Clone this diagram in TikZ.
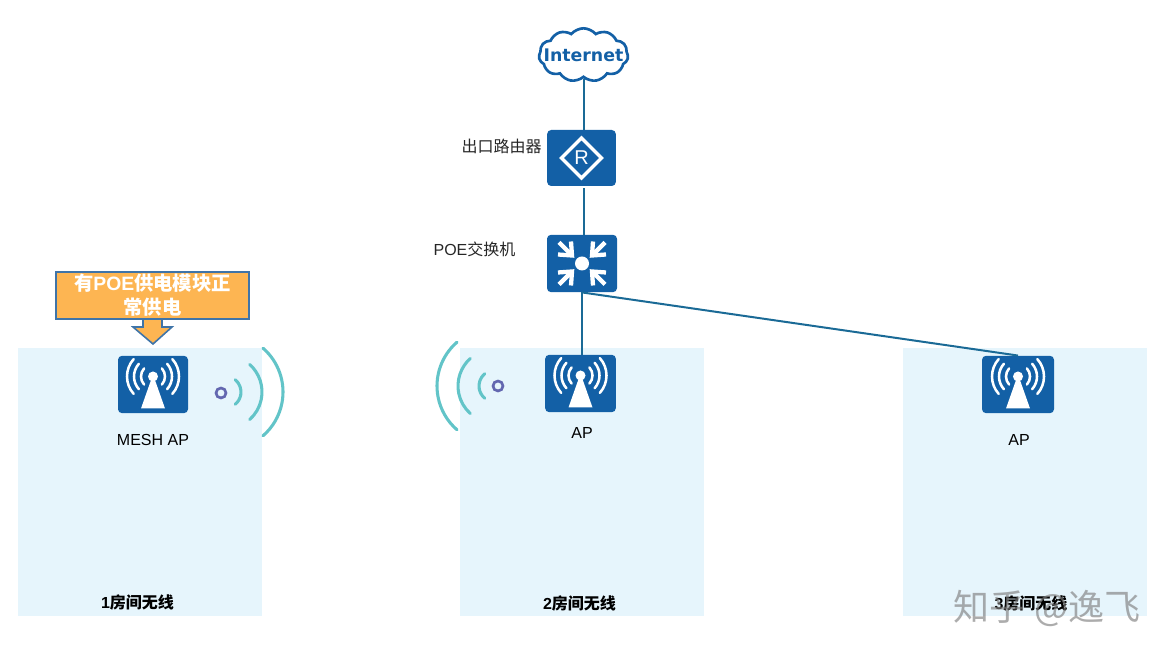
\documentclass[tikz,border=0pt]{standalone}
\usepackage{fontspec}
\setmainfont{Liberation Sans}
\newfontfamily\cjk{Noto Sans CJK SC}
\newfontfamily\cloudfont{DejaVu Sans}
\usetikzlibrary{shapes.symbols}

\definecolor{iconblue}{HTML}{1360A6}
\definecolor{linkblue}{HTML}{1A6A96}
\definecolor{roomblue}{HTML}{E6F5FC}
\definecolor{noticeorange}{HTML}{FDB552}
\definecolor{noticeedge}{HTML}{3F74A8}
\definecolor{wavegreen}{HTML}{62C4C8}
\definecolor{dotpurple}{HTML}{6367B0}

\tikzset{
    room/.style = {fill=roomblue, inner sep=0, minimum width=183pt, minimum height=201pt},
    device/.style = {fill=iconblue, rounded corners=3pt, inner sep=0},
    link/.style = {draw=linkblue, line width=1.5pt},
    label/.style = {inner sep=0, font=\fontsize{12}{14}\selectfont},
    roomlabel/.style = {inner sep=0, font=\fontsize{12}{14}\selectfont\bfseries},
    wave/.style = {draw=wavegreen, line width=2.3pt, line cap=round},
    apicon/.pic = {
        \fill [white] (0,10) -- (-12,-24) -- (12,-24) -- cycle;
        \fill [white] (0,8) circle [radius=5];
        \foreach \r in {12, 19, 26} {
            \draw [white, line width=1.9pt, line cap=round] (0,8) ++(42:\r) arc [start angle=42, end angle=-42, radius=\r];
            \draw [white, line width=1.9pt, line cap=round] (0,8) ++(138:\r) arc [start angle=138, end angle=222, radius=\r];
        }
    },
    inarrow/.pic = {
        \draw [white, line width=3.2pt] (-24,9) -- (-10,8) -- (-11,22);
        \draw [white, line width=3.2pt] (-23,21) -- (-11,9);
    }
}

\begin{document}
\begin{tikzpicture}[x=0.75pt, y=0.75pt]
    \useasboundingbox (0,0) rectangle (1170,655);

    \node [room] (room1) at (140,173) {};
    \node [room] (room2) at (582,172.5) {};
    \node [room] (room3) at (1025,172.5) {};

    \node [cloud, cloud puffs=11, cloud puff arc=100, aspect=1.7, draw=iconblue, fill=white, line width=2pt, inner sep=0, minimum width=67pt, minimum height=40pt] (internet) at (583.5,600) {};
    \node [inner sep=0, text=iconblue, font=\cloudfont\fontsize{13}{15}\selectfont\bfseries] (internettext) at (internet) {Internet};

    \node [device, minimum width=51.5pt, minimum height=42pt] (router) at (581.5,497) {};
    \node [device, minimum width=52.5pt, minimum height=43pt] (switch) at (582,391.5) {};
    \node [device, minimum width=52.5pt, minimum height=43pt] (ap1) at (153,270.5) {};
    \node [device, minimum width=53pt, minimum height=43pt] (ap2) at (580.5,271.5) {};
    \node [device, minimum width=54pt, minimum height=43pt] (ap3) at (1018,270.5) {};

    \draw [link] (internet.south) -- (internet.south |- router.north);
    \draw [link] (internet.south |- router.south) ++(0,-2) -- (internet.south |- switch.north);
    \draw [link] (switch.south) -- (switch.south |- ap2.north);
    \draw [link] (switch.south) -- (ap3.north);

    \draw [white, line width=2.5pt] (581.5,517) -- (601.5,497) -- (581.5,477) -- (561.5,497) -- cycle;
    \node [inner sep=0, text=white, font=\fontsize{15}{17}\selectfont] (routerletter) at (router) {R};

    \fill [white] (switch) circle [radius=7];
    \pic at (switch) {inarrow};
    \pic [xscale=-1] at (switch) {inarrow};
    \pic [yscale=-1] at (switch) {inarrow};
    \pic [scale=-1] at (switch) {inarrow};

    \pic at (ap1) {apicon};
    \pic at (ap2) {apicon};
    \pic at (ap3) {apicon};

    \node [label, text=black!85] (routerlabel) at (501.5,509) {\cjk 出口路由器};
    \node [label, text=black!85] (switchlabel) at (474.5,406) {POE{\cjk 交换机}};
    \node [label] (ap1label) at (153,215) {MESH AP};
    \node [label] (ap2label) at (582,222) {AP};
    \node [label] (ap3label) at (1019,215) {AP};

    \node [roomlabel] (room1label) at (137.5,53) {1{\cjk 房间无线}};
    \node [roomlabel] (room2label) at (579.5,52) {2{\cjk 房间无线}};
    \node [roomlabel] (room3label) at (1031,52) {3{\cjk 房间无线}};

    \draw [draw=noticeedge, fill=noticeorange, line width=1.2pt] (143,337) -- (143,328) -- (133,328) -- (153,311) -- (172,328) -- (162,328) -- (162,337) -- cycle;
    \node [draw=noticeedge, fill=noticeorange, line width=1.2pt, inner sep=0, minimum width=144.5pt, minimum height=35pt, text width=144.5pt, align=center, text=white, font=\fontsize{14.5}{18}\selectfont\bfseries] (notice) at (152.5,359.5) {{\cjk 有}POE{\cjk 供电模块正\\常供电}};

    \draw [draw=dotpurple, line width=2pt] (221,262) circle [radius=5];
    \draw [wave] (225,263) ++(50:16) arc [start angle=50, end angle=-50, radius=16];
    \draw [wave] (225,263) ++(48:37) arc [start angle=48, end angle=-48, radius=37];
    \draw [wave] (225,263) ++(49:58) arc [start angle=49, end angle=-49, radius=58];

    \draw [draw=dotpurple, line width=2pt] (498,269) circle [radius=5];
    \draw [wave] (495,269) ++(130:16) arc [start angle=130, end angle=230, radius=16];
    \draw [wave] (495,269) ++(132:37) arc [start angle=132, end angle=228, radius=37];
    \draw [wave] (495,269) ++(131:58) arc [start angle=131, end angle=229, radius=58];

    \node [inner sep=0, text=gray, text opacity=0.65, font=\cjk\fontsize{27}{30}\selectfont] (watermark) at (1047,47) {知乎 @逸飞};
\end{tikzpicture}
\end{document}
